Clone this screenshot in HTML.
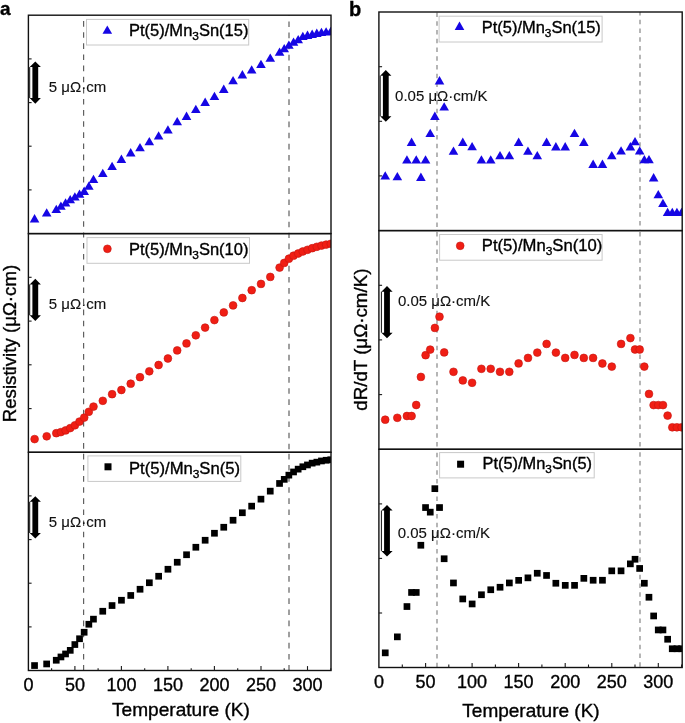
<!DOCTYPE html>
<html><head><meta charset="utf-8"><title>Figure</title>
<style>html,body{margin:0;padding:0;background:#fff;}body{width:685px;height:723px;overflow:hidden;}svg{display:block;}text{stroke:#000;stroke-width:0.35px;}</style>
</head><body>
<svg width="685" height="723" viewBox="0 0 685 723" font-family='"Liberation Sans", Arial, sans-serif' fill="#000"><defs><clipPath id="cL0"><rect x="28.4" y="15.2" width="302.6" height="218.4"/></clipPath><clipPath id="cL1"><rect x="28.4" y="233.6" width="302.6" height="218.7"/></clipPath><clipPath id="cL2"><rect x="28.4" y="452.3" width="302.6" height="218.2"/></clipPath><clipPath id="cR0"><rect x="378.9" y="12.0" width="303.3" height="218.6"/></clipPath><clipPath id="cR1"><rect x="378.9" y="230.6" width="303.3" height="218.7"/></clipPath><clipPath id="cR2"><rect x="378.9" y="449.3" width="303.3" height="218.2"/></clipPath></defs><line x1="83.6" y1="15.2" x2="83.6" y2="233.6" stroke="#606060" stroke-width="1.2" stroke-dasharray="5.6,5.52" stroke-dashoffset="5.22"/>
<line x1="289.0" y1="15.2" x2="289.0" y2="233.6" stroke="#606060" stroke-width="1.2" stroke-dasharray="5.6,5.52" stroke-dashoffset="4.82"/>
<line x1="437.0" y1="12.0" x2="437.0" y2="230.6" stroke="#858585" stroke-width="1.2" stroke-dasharray="4.4,4.35" stroke-dashoffset="8.15"/>
<line x1="640.0" y1="12.0" x2="640.0" y2="230.6" stroke="#858585" stroke-width="1.2" stroke-dasharray="4.4,4.35" stroke-dashoffset="0.90"/>
<line x1="83.6" y1="233.6" x2="83.6" y2="452.3" stroke="#606060" stroke-width="1.2" stroke-dasharray="5.6,5.52" stroke-dashoffset="1.82"/>
<line x1="289.0" y1="233.6" x2="289.0" y2="452.3" stroke="#606060" stroke-width="1.2" stroke-dasharray="5.6,5.52" stroke-dashoffset="1.12"/>
<line x1="437.0" y1="230.6" x2="437.0" y2="449.3" stroke="#858585" stroke-width="1.2" stroke-dasharray="4.4,4.35" stroke-dashoffset="7.35"/>
<line x1="640.0" y1="230.6" x2="640.0" y2="449.3" stroke="#858585" stroke-width="1.2" stroke-dasharray="4.4,4.35" stroke-dashoffset="7.31"/>
<line x1="83.6" y1="452.3" x2="83.6" y2="670.5" stroke="#606060" stroke-width="1.2" stroke-dasharray="5.6,5.52" stroke-dashoffset="9.62"/>
<line x1="289.0" y1="452.3" x2="289.0" y2="670.5" stroke="#606060" stroke-width="1.2" stroke-dasharray="5.6,5.52" stroke-dashoffset="9.62"/>
<line x1="437.0" y1="449.3" x2="437.0" y2="667.5" stroke="#858585" stroke-width="1.2" stroke-dasharray="4.4,4.35" stroke-dashoffset="5.25"/>
<line x1="640.0" y1="449.3" x2="640.0" y2="667.5" stroke="#858585" stroke-width="1.2" stroke-dasharray="4.4,4.35" stroke-dashoffset="5.79"/>
<rect x="86.5" y="19.4" width="162.2" height="25.6" fill="#fff" stroke="#c8c8c8" stroke-width="1"/>
<polygon points="107.30,25.40 112.10,33.70 102.50,33.70" fill="#1606e4"/>
<text x="129.0" y="35.9" font-size="16" textLength="119.5" lengthAdjust="spacingAndGlyphs">Pt(5)/Mn<tspan font-size="11.5" dy="4">3</tspan><tspan dy="-4">Sn(15)</tspan></text>
<rect x="87.0" y="237.6" width="162.5" height="25.7" fill="#fff" stroke="#c8c8c8" stroke-width="1"/>
<circle cx="107.4" cy="248.8" r="3.9" fill="#f01e14" stroke="#c41510" stroke-width="0.6"/>
<text x="129.0" y="255.2" font-size="16" textLength="119.5" lengthAdjust="spacingAndGlyphs">Pt(5)/Mn<tspan font-size="11.5" dy="4">3</tspan><tspan dy="-4">Sn(10)</tspan></text>
<rect x="87.9" y="455.9" width="152.9" height="25.5" fill="#fff" stroke="#c8c8c8" stroke-width="1"/>
<rect x="104.5" y="463.3" width="7.0" height="7.0" fill="#000000"/>
<text x="129.0" y="473.6" font-size="16" textLength="111.0" lengthAdjust="spacingAndGlyphs">Pt(5)/Mn<tspan font-size="11.5" dy="4">3</tspan><tspan dy="-4">Sn(5)</tspan></text>
<rect x="439.1" y="16.2" width="163.0" height="25.8" fill="#fff" stroke="#c8c8c8" stroke-width="1"/>
<polygon points="459.50,21.60 464.30,29.90 454.70,29.90" fill="#1606e4"/>
<text x="481.8" y="32.6" font-size="16" textLength="119.0" lengthAdjust="spacingAndGlyphs">Pt(5)/Mn<tspan font-size="11.5" dy="4">3</tspan><tspan dy="-4">Sn(15)</tspan></text>
<rect x="439.6" y="234.5" width="162.5" height="25.7" fill="#fff" stroke="#c8c8c8" stroke-width="1"/>
<circle cx="460.2" cy="245.8" r="3.9" fill="#f01e14" stroke="#c41510" stroke-width="0.6"/>
<text x="481.8" y="251.2" font-size="16" textLength="120.5" lengthAdjust="spacingAndGlyphs">Pt(5)/Mn<tspan font-size="11.5" dy="4">3</tspan><tspan dy="-4">Sn(10)</tspan></text>
<rect x="439.6" y="452.6" width="154.6" height="25.3" fill="#fff" stroke="#c8c8c8" stroke-width="1"/>
<rect x="457.1" y="460.7" width="7.0" height="7.0" fill="#000000"/>
<text x="482.5" y="469.4" font-size="16" textLength="109.5" lengthAdjust="spacingAndGlyphs">Pt(5)/Mn<tspan font-size="11.5" dy="4">3</tspan><tspan dy="-4">Sn(5)</tspan></text>
<g clip-path="url(#cL0)">
<polygon points="34.58,214.10 39.38,222.40 29.78,222.40" fill="#1606e4"/>
<polygon points="46.68,208.30 51.48,216.60 41.88,216.60" fill="#1606e4"/>
<polygon points="56.27,204.70 61.06,213.00 51.47,213.00" fill="#1606e4"/>
<polygon points="60.92,201.47 65.72,209.77 56.12,209.77" fill="#1606e4"/>
<polygon points="65.57,198.23 70.37,206.53 60.77,206.53" fill="#1606e4"/>
<polygon points="70.22,195.00 75.02,203.30 65.42,203.30" fill="#1606e4"/>
<polygon points="74.88,192.20 79.67,200.50 70.08,200.50" fill="#1606e4"/>
<polygon points="79.53,189.40 84.33,197.70 74.73,197.70" fill="#1606e4"/>
<polygon points="84.18,186.60 88.98,194.90 79.38,194.90" fill="#1606e4"/>
<polygon points="88.83,181.40 93.63,189.70 84.03,189.70" fill="#1606e4"/>
<polygon points="93.49,174.70 98.29,183.00 88.69,183.00" fill="#1606e4"/>
<polygon points="102.79,168.70 107.59,177.00 97.99,177.00" fill="#1606e4"/>
<polygon points="112.09,161.70 116.89,170.00 107.30,170.00" fill="#1606e4"/>
<polygon points="121.40,154.60 126.20,162.90 116.60,162.90" fill="#1606e4"/>
<polygon points="130.71,148.10 135.51,156.40 125.91,156.40" fill="#1606e4"/>
<polygon points="140.01,143.00 144.81,151.30 135.21,151.30" fill="#1606e4"/>
<polygon points="149.31,136.90 154.12,145.20 144.51,145.20" fill="#1606e4"/>
<polygon points="158.62,131.30 163.42,139.60 153.82,139.60" fill="#1606e4"/>
<polygon points="167.92,125.20 172.72,133.50 163.12,133.50" fill="#1606e4"/>
<polygon points="177.23,116.90 182.03,125.20 172.43,125.20" fill="#1606e4"/>
<polygon points="186.53,111.60 191.34,119.90 181.73,119.90" fill="#1606e4"/>
<polygon points="195.84,104.80 200.64,113.10 191.04,113.10" fill="#1606e4"/>
<polygon points="205.14,97.60 209.94,105.90 200.34,105.90" fill="#1606e4"/>
<polygon points="214.45,91.80 219.25,100.10 209.65,100.10" fill="#1606e4"/>
<polygon points="223.75,84.60 228.56,92.90 218.95,92.90" fill="#1606e4"/>
<polygon points="233.06,75.90 237.86,84.20 228.26,84.20" fill="#1606e4"/>
<polygon points="242.36,70.10 247.16,78.40 237.56,78.40" fill="#1606e4"/>
<polygon points="251.67,65.30 256.47,73.60 246.87,73.60" fill="#1606e4"/>
<polygon points="260.98,59.80 265.78,68.10 256.18,68.10" fill="#1606e4"/>
<polygon points="270.28,53.40 275.08,61.70 265.48,61.70" fill="#1606e4"/>
<polygon points="279.58,47.40 284.38,55.70 274.78,55.70" fill="#1606e4"/>
<polygon points="284.24,43.90 289.04,52.20 279.44,52.20" fill="#1606e4"/>
<polygon points="288.89,40.40 293.69,48.70 284.09,48.70" fill="#1606e4"/>
<polygon points="293.54,37.40 298.34,45.70 288.74,45.70" fill="#1606e4"/>
<polygon points="298.19,34.90 303.00,43.20 293.39,43.20" fill="#1606e4"/>
<polygon points="302.85,31.80 307.65,40.10 298.05,40.10" fill="#1606e4"/>
<polygon points="307.50,30.60 312.30,38.90 302.70,38.90" fill="#1606e4"/>
<polygon points="312.15,29.60 316.95,37.90 307.35,37.90" fill="#1606e4"/>
<polygon points="316.81,28.60 321.61,36.90 312.00,36.90" fill="#1606e4"/>
<polygon points="321.46,27.80 326.26,36.10 316.66,36.10" fill="#1606e4"/>
<polygon points="326.11,27.20 330.91,35.50 321.31,35.50" fill="#1606e4"/>
<polygon points="330.76,26.70 335.56,35.00 325.96,35.00" fill="#1606e4"/>
</g>
<g clip-path="url(#cL1)">
<circle cx="34.6" cy="439.1" r="3.9" fill="#f01e14" stroke="#c41510" stroke-width="0.6"/>
<circle cx="46.7" cy="436.3" r="3.9" fill="#f01e14" stroke="#c41510" stroke-width="0.6"/>
<circle cx="56.3" cy="433.2" r="3.9" fill="#f01e14" stroke="#c41510" stroke-width="0.6"/>
<circle cx="60.9" cy="432.1" r="3.9" fill="#f01e14" stroke="#c41510" stroke-width="0.6"/>
<circle cx="65.6" cy="430.4" r="3.9" fill="#f01e14" stroke="#c41510" stroke-width="0.6"/>
<circle cx="70.2" cy="428.1" r="3.9" fill="#f01e14" stroke="#c41510" stroke-width="0.6"/>
<circle cx="74.9" cy="425.3" r="3.9" fill="#f01e14" stroke="#c41510" stroke-width="0.6"/>
<circle cx="79.5" cy="421.6" r="3.9" fill="#f01e14" stroke="#c41510" stroke-width="0.6"/>
<circle cx="84.2" cy="417.6" r="3.9" fill="#f01e14" stroke="#c41510" stroke-width="0.6"/>
<circle cx="88.8" cy="411.8" r="3.9" fill="#f01e14" stroke="#c41510" stroke-width="0.6"/>
<circle cx="93.5" cy="406.6" r="3.9" fill="#f01e14" stroke="#c41510" stroke-width="0.6"/>
<circle cx="102.8" cy="400.8" r="3.9" fill="#f01e14" stroke="#c41510" stroke-width="0.6"/>
<circle cx="112.1" cy="394.2" r="3.9" fill="#f01e14" stroke="#c41510" stroke-width="0.6"/>
<circle cx="121.4" cy="390.0" r="3.9" fill="#f01e14" stroke="#c41510" stroke-width="0.6"/>
<circle cx="130.7" cy="383.7" r="3.9" fill="#f01e14" stroke="#c41510" stroke-width="0.6"/>
<circle cx="140.0" cy="377.2" r="3.9" fill="#f01e14" stroke="#c41510" stroke-width="0.6"/>
<circle cx="149.3" cy="371.3" r="3.9" fill="#f01e14" stroke="#c41510" stroke-width="0.6"/>
<circle cx="158.6" cy="365.0" r="3.9" fill="#f01e14" stroke="#c41510" stroke-width="0.6"/>
<circle cx="167.9" cy="358.5" r="3.9" fill="#f01e14" stroke="#c41510" stroke-width="0.6"/>
<circle cx="177.2" cy="350.4" r="3.9" fill="#f01e14" stroke="#c41510" stroke-width="0.6"/>
<circle cx="186.5" cy="343.4" r="3.9" fill="#f01e14" stroke="#c41510" stroke-width="0.6"/>
<circle cx="195.8" cy="335.3" r="3.9" fill="#f01e14" stroke="#c41510" stroke-width="0.6"/>
<circle cx="205.1" cy="327.6" r="3.9" fill="#f01e14" stroke="#c41510" stroke-width="0.6"/>
<circle cx="214.4" cy="320.1" r="3.9" fill="#f01e14" stroke="#c41510" stroke-width="0.6"/>
<circle cx="223.8" cy="312.4" r="3.9" fill="#f01e14" stroke="#c41510" stroke-width="0.6"/>
<circle cx="233.1" cy="305.4" r="3.9" fill="#f01e14" stroke="#c41510" stroke-width="0.6"/>
<circle cx="242.4" cy="298.0" r="3.9" fill="#f01e14" stroke="#c41510" stroke-width="0.6"/>
<circle cx="251.7" cy="290.2" r="3.9" fill="#f01e14" stroke="#c41510" stroke-width="0.6"/>
<circle cx="261.0" cy="283.9" r="3.9" fill="#f01e14" stroke="#c41510" stroke-width="0.6"/>
<circle cx="270.3" cy="276.9" r="3.9" fill="#f01e14" stroke="#c41510" stroke-width="0.6"/>
<circle cx="279.6" cy="267.6" r="3.9" fill="#f01e14" stroke="#c41510" stroke-width="0.6"/>
<circle cx="284.2" cy="262.9" r="3.9" fill="#f01e14" stroke="#c41510" stroke-width="0.6"/>
<circle cx="288.9" cy="258.7" r="3.9" fill="#f01e14" stroke="#c41510" stroke-width="0.6"/>
<circle cx="293.5" cy="255.7" r="3.9" fill="#f01e14" stroke="#c41510" stroke-width="0.6"/>
<circle cx="298.2" cy="253.5" r="3.9" fill="#f01e14" stroke="#c41510" stroke-width="0.6"/>
<circle cx="302.8" cy="251.5" r="3.9" fill="#f01e14" stroke="#c41510" stroke-width="0.6"/>
<circle cx="307.5" cy="249.8" r="3.9" fill="#f01e14" stroke="#c41510" stroke-width="0.6"/>
<circle cx="312.2" cy="248.2" r="3.9" fill="#f01e14" stroke="#c41510" stroke-width="0.6"/>
<circle cx="316.8" cy="246.8" r="3.9" fill="#f01e14" stroke="#c41510" stroke-width="0.6"/>
<circle cx="321.5" cy="245.6" r="3.9" fill="#f01e14" stroke="#c41510" stroke-width="0.6"/>
<circle cx="326.1" cy="244.6" r="3.9" fill="#f01e14" stroke="#c41510" stroke-width="0.6"/>
<circle cx="330.8" cy="243.8" r="3.9" fill="#f01e14" stroke="#c41510" stroke-width="0.6"/>
</g>
<g clip-path="url(#cL2)">
<rect x="31.2" y="662.2" width="6.7" height="6.7" fill="#000000"/>
<rect x="43.3" y="660.6" width="6.7" height="6.7" fill="#000000"/>
<rect x="52.9" y="656.9" width="6.7" height="6.7" fill="#000000"/>
<rect x="57.6" y="653.6" width="6.7" height="6.7" fill="#000000"/>
<rect x="62.2" y="650.6" width="6.7" height="6.7" fill="#000000"/>
<rect x="66.9" y="647.0" width="6.7" height="6.7" fill="#000000"/>
<rect x="71.5" y="641.2" width="6.7" height="6.7" fill="#000000"/>
<rect x="76.2" y="635.4" width="6.7" height="6.7" fill="#000000"/>
<rect x="80.8" y="628.9" width="6.7" height="6.7" fill="#000000"/>
<rect x="85.5" y="620.9" width="6.7" height="6.7" fill="#000000"/>
<rect x="90.1" y="615.8" width="6.7" height="6.7" fill="#000000"/>
<rect x="99.4" y="607.9" width="6.7" height="6.7" fill="#000000"/>
<rect x="108.7" y="602.2" width="6.7" height="6.7" fill="#000000"/>
<rect x="118.1" y="596.9" width="6.7" height="6.7" fill="#000000"/>
<rect x="127.4" y="592.1" width="6.7" height="6.7" fill="#000000"/>
<rect x="136.7" y="585.9" width="6.7" height="6.7" fill="#000000"/>
<rect x="146.0" y="579.4" width="6.7" height="6.7" fill="#000000"/>
<rect x="155.3" y="572.9" width="6.7" height="6.7" fill="#000000"/>
<rect x="164.6" y="565.9" width="6.7" height="6.7" fill="#000000"/>
<rect x="173.9" y="558.9" width="6.7" height="6.7" fill="#000000"/>
<rect x="183.2" y="551.4" width="6.7" height="6.7" fill="#000000"/>
<rect x="192.5" y="543.9" width="6.7" height="6.7" fill="#000000"/>
<rect x="201.8" y="536.9" width="6.7" height="6.7" fill="#000000"/>
<rect x="211.1" y="529.9" width="6.7" height="6.7" fill="#000000"/>
<rect x="220.4" y="523.9" width="6.7" height="6.7" fill="#000000"/>
<rect x="229.7" y="516.9" width="6.7" height="6.7" fill="#000000"/>
<rect x="239.0" y="509.4" width="6.7" height="6.7" fill="#000000"/>
<rect x="248.3" y="502.8" width="6.7" height="6.7" fill="#000000"/>
<rect x="257.6" y="495.8" width="6.7" height="6.7" fill="#000000"/>
<rect x="266.9" y="487.8" width="6.7" height="6.7" fill="#000000"/>
<rect x="276.2" y="480.1" width="6.7" height="6.7" fill="#000000"/>
<rect x="280.9" y="476.0" width="6.7" height="6.7" fill="#000000"/>
<rect x="285.5" y="471.8" width="6.7" height="6.7" fill="#000000"/>
<rect x="290.2" y="468.6" width="6.7" height="6.7" fill="#000000"/>
<rect x="294.8" y="465.8" width="6.7" height="6.7" fill="#000000"/>
<rect x="299.5" y="463.4" width="6.7" height="6.7" fill="#000000"/>
<rect x="304.1" y="461.6" width="6.7" height="6.7" fill="#000000"/>
<rect x="308.8" y="459.8" width="6.7" height="6.7" fill="#000000"/>
<rect x="313.5" y="458.8" width="6.7" height="6.7" fill="#000000"/>
<rect x="318.1" y="457.6" width="6.7" height="6.7" fill="#000000"/>
<rect x="322.8" y="456.9" width="6.7" height="6.7" fill="#000000"/>
<rect x="327.4" y="456.4" width="6.7" height="6.7" fill="#000000"/>
</g>
<g clip-path="url(#cR0)">
<polygon points="385.24,171.30 390.04,179.60 380.44,179.60" fill="#1606e4"/>
<polygon points="397.34,172.00 402.14,180.30 392.54,180.30" fill="#1606e4"/>
<polygon points="406.93,155.30 411.73,163.60 402.13,163.60" fill="#1606e4"/>
<polygon points="411.58,137.60 416.38,145.90 406.78,145.90" fill="#1606e4"/>
<polygon points="416.24,155.30 421.04,163.60 411.44,163.60" fill="#1606e4"/>
<polygon points="420.89,172.60 425.69,180.90 416.09,180.90" fill="#1606e4"/>
<polygon points="425.55,155.30 430.35,163.60 420.75,163.60" fill="#1606e4"/>
<polygon points="430.20,128.70 435.00,137.00 425.40,137.00" fill="#1606e4"/>
<polygon points="434.86,111.60 439.66,119.90 430.06,119.90" fill="#1606e4"/>
<polygon points="439.51,76.10 444.31,84.40 434.71,84.40" fill="#1606e4"/>
<polygon points="444.17,102.30 448.97,110.60 439.37,110.60" fill="#1606e4"/>
<polygon points="453.48,146.40 458.28,154.70 448.68,154.70" fill="#1606e4"/>
<polygon points="462.79,137.60 467.59,145.90 457.99,145.90" fill="#1606e4"/>
<polygon points="472.10,141.90 476.90,150.20 467.30,150.20" fill="#1606e4"/>
<polygon points="481.41,155.30 486.21,163.60 476.61,163.60" fill="#1606e4"/>
<polygon points="490.72,155.30 495.52,163.60 485.92,163.60" fill="#1606e4"/>
<polygon points="500.03,150.90 504.83,159.20 495.23,159.20" fill="#1606e4"/>
<polygon points="509.34,150.90 514.14,159.20 504.54,159.20" fill="#1606e4"/>
<polygon points="518.65,137.60 523.45,145.90 513.85,145.90" fill="#1606e4"/>
<polygon points="527.96,146.40 532.76,154.70 523.16,154.70" fill="#1606e4"/>
<polygon points="537.27,150.90 542.07,159.20 532.47,159.20" fill="#1606e4"/>
<polygon points="546.58,137.60 551.38,145.90 541.78,145.90" fill="#1606e4"/>
<polygon points="555.89,142.10 560.69,150.40 551.09,150.40" fill="#1606e4"/>
<polygon points="565.20,142.10 570.00,150.40 560.40,150.40" fill="#1606e4"/>
<polygon points="574.51,128.80 579.31,137.10 569.71,137.10" fill="#1606e4"/>
<polygon points="583.82,137.60 588.62,145.90 579.02,145.90" fill="#1606e4"/>
<polygon points="593.13,159.60 597.93,167.90 588.33,167.90" fill="#1606e4"/>
<polygon points="602.44,159.60 607.24,167.90 597.64,167.90" fill="#1606e4"/>
<polygon points="611.75,150.90 616.55,159.20 606.95,159.20" fill="#1606e4"/>
<polygon points="621.06,146.30 625.86,154.60 616.26,154.60" fill="#1606e4"/>
<polygon points="630.37,142.10 635.17,150.40 625.57,150.40" fill="#1606e4"/>
<polygon points="635.03,136.90 639.83,145.20 630.23,145.20" fill="#1606e4"/>
<polygon points="639.68,146.30 644.48,154.60 634.88,154.60" fill="#1606e4"/>
<polygon points="644.34,154.90 649.13,163.20 639.54,163.20" fill="#1606e4"/>
<polygon points="648.99,154.90 653.79,163.20 644.19,163.20" fill="#1606e4"/>
<polygon points="653.64,173.10 658.44,181.40 648.85,181.40" fill="#1606e4"/>
<polygon points="658.30,190.00 663.10,198.30 653.50,198.30" fill="#1606e4"/>
<polygon points="662.96,198.80 667.75,207.10 658.16,207.10" fill="#1606e4"/>
<polygon points="667.61,207.70 672.41,216.00 662.81,216.00" fill="#1606e4"/>
<polygon points="672.27,207.70 677.07,216.00 667.47,216.00" fill="#1606e4"/>
<polygon points="676.92,207.70 681.72,216.00 672.12,216.00" fill="#1606e4"/>
<polygon points="681.58,207.70 686.38,216.00 676.78,216.00" fill="#1606e4"/>
</g>
<g clip-path="url(#cR1)">
<circle cx="385.2" cy="419.7" r="3.9" fill="#f01e14" stroke="#c41510" stroke-width="0.6"/>
<circle cx="397.3" cy="417.8" r="3.9" fill="#f01e14" stroke="#c41510" stroke-width="0.6"/>
<circle cx="406.9" cy="416.0" r="3.9" fill="#f01e14" stroke="#c41510" stroke-width="0.6"/>
<circle cx="411.6" cy="416.0" r="3.9" fill="#f01e14" stroke="#c41510" stroke-width="0.6"/>
<circle cx="416.2" cy="405.0" r="3.9" fill="#f01e14" stroke="#c41510" stroke-width="0.6"/>
<circle cx="420.9" cy="376.9" r="3.9" fill="#f01e14" stroke="#c41510" stroke-width="0.6"/>
<circle cx="425.6" cy="355.2" r="3.9" fill="#f01e14" stroke="#c41510" stroke-width="0.6"/>
<circle cx="430.2" cy="349.6" r="3.9" fill="#f01e14" stroke="#c41510" stroke-width="0.6"/>
<circle cx="434.9" cy="327.9" r="3.9" fill="#f01e14" stroke="#c41510" stroke-width="0.6"/>
<circle cx="439.5" cy="316.7" r="3.9" fill="#f01e14" stroke="#c41510" stroke-width="0.6"/>
<circle cx="444.2" cy="352.4" r="3.9" fill="#f01e14" stroke="#c41510" stroke-width="0.6"/>
<circle cx="453.5" cy="371.8" r="3.9" fill="#f01e14" stroke="#c41510" stroke-width="0.6"/>
<circle cx="462.8" cy="380.4" r="3.9" fill="#f01e14" stroke="#c41510" stroke-width="0.6"/>
<circle cx="472.1" cy="382.8" r="3.9" fill="#f01e14" stroke="#c41510" stroke-width="0.6"/>
<circle cx="481.4" cy="368.8" r="3.9" fill="#f01e14" stroke="#c41510" stroke-width="0.6"/>
<circle cx="490.7" cy="368.8" r="3.9" fill="#f01e14" stroke="#c41510" stroke-width="0.6"/>
<circle cx="500.0" cy="371.8" r="3.9" fill="#f01e14" stroke="#c41510" stroke-width="0.6"/>
<circle cx="509.3" cy="371.8" r="3.9" fill="#f01e14" stroke="#c41510" stroke-width="0.6"/>
<circle cx="518.6" cy="363.4" r="3.9" fill="#f01e14" stroke="#c41510" stroke-width="0.6"/>
<circle cx="528.0" cy="357.9" r="3.9" fill="#f01e14" stroke="#c41510" stroke-width="0.6"/>
<circle cx="537.3" cy="352.6" r="3.9" fill="#f01e14" stroke="#c41510" stroke-width="0.6"/>
<circle cx="546.6" cy="343.9" r="3.9" fill="#f01e14" stroke="#c41510" stroke-width="0.6"/>
<circle cx="555.9" cy="352.6" r="3.9" fill="#f01e14" stroke="#c41510" stroke-width="0.6"/>
<circle cx="565.2" cy="357.9" r="3.9" fill="#f01e14" stroke="#c41510" stroke-width="0.6"/>
<circle cx="574.5" cy="354.9" r="3.9" fill="#f01e14" stroke="#c41510" stroke-width="0.6"/>
<circle cx="583.8" cy="357.9" r="3.9" fill="#f01e14" stroke="#c41510" stroke-width="0.6"/>
<circle cx="593.1" cy="357.9" r="3.9" fill="#f01e14" stroke="#c41510" stroke-width="0.6"/>
<circle cx="602.4" cy="363.5" r="3.9" fill="#f01e14" stroke="#c41510" stroke-width="0.6"/>
<circle cx="611.8" cy="366.6" r="3.9" fill="#f01e14" stroke="#c41510" stroke-width="0.6"/>
<circle cx="621.1" cy="343.9" r="3.9" fill="#f01e14" stroke="#c41510" stroke-width="0.6"/>
<circle cx="630.4" cy="338.1" r="3.9" fill="#f01e14" stroke="#c41510" stroke-width="0.6"/>
<circle cx="635.0" cy="349.5" r="3.9" fill="#f01e14" stroke="#c41510" stroke-width="0.6"/>
<circle cx="639.7" cy="349.5" r="3.9" fill="#f01e14" stroke="#c41510" stroke-width="0.6"/>
<circle cx="644.3" cy="366.6" r="3.9" fill="#f01e14" stroke="#c41510" stroke-width="0.6"/>
<circle cx="649.0" cy="393.9" r="3.9" fill="#f01e14" stroke="#c41510" stroke-width="0.6"/>
<circle cx="653.6" cy="405.1" r="3.9" fill="#f01e14" stroke="#c41510" stroke-width="0.6"/>
<circle cx="658.3" cy="405.1" r="3.9" fill="#f01e14" stroke="#c41510" stroke-width="0.6"/>
<circle cx="663.0" cy="405.1" r="3.9" fill="#f01e14" stroke="#c41510" stroke-width="0.6"/>
<circle cx="667.6" cy="415.6" r="3.9" fill="#f01e14" stroke="#c41510" stroke-width="0.6"/>
<circle cx="672.3" cy="427.3" r="3.9" fill="#f01e14" stroke="#c41510" stroke-width="0.6"/>
<circle cx="676.9" cy="427.3" r="3.9" fill="#f01e14" stroke="#c41510" stroke-width="0.6"/>
<circle cx="681.6" cy="427.3" r="3.9" fill="#f01e14" stroke="#c41510" stroke-width="0.6"/>
</g>
<g clip-path="url(#cR2)">
<rect x="381.9" y="649.5" width="6.7" height="6.7" fill="#000000"/>
<rect x="394.0" y="633.5" width="6.7" height="6.7" fill="#000000"/>
<rect x="403.6" y="603.2" width="6.7" height="6.7" fill="#000000"/>
<rect x="408.2" y="589.1" width="6.7" height="6.7" fill="#000000"/>
<rect x="412.9" y="589.1" width="6.7" height="6.7" fill="#000000"/>
<rect x="417.5" y="541.9" width="6.7" height="6.7" fill="#000000"/>
<rect x="422.2" y="504.2" width="6.7" height="6.7" fill="#000000"/>
<rect x="426.9" y="508.8" width="6.7" height="6.7" fill="#000000"/>
<rect x="431.5" y="485.3" width="6.7" height="6.7" fill="#000000"/>
<rect x="436.2" y="504.2" width="6.7" height="6.7" fill="#000000"/>
<rect x="440.8" y="555.4" width="6.7" height="6.7" fill="#000000"/>
<rect x="450.1" y="579.6" width="6.7" height="6.7" fill="#000000"/>
<rect x="459.4" y="595.6" width="6.7" height="6.7" fill="#000000"/>
<rect x="468.8" y="600.6" width="6.7" height="6.7" fill="#000000"/>
<rect x="478.1" y="591.4" width="6.7" height="6.7" fill="#000000"/>
<rect x="487.4" y="586.4" width="6.7" height="6.7" fill="#000000"/>
<rect x="496.7" y="583.9" width="6.7" height="6.7" fill="#000000"/>
<rect x="506.0" y="579.6" width="6.7" height="6.7" fill="#000000"/>
<rect x="515.3" y="577.0" width="6.7" height="6.7" fill="#000000"/>
<rect x="524.6" y="574.5" width="6.7" height="6.7" fill="#000000"/>
<rect x="533.9" y="569.9" width="6.7" height="6.7" fill="#000000"/>
<rect x="543.2" y="572.1" width="6.7" height="6.7" fill="#000000"/>
<rect x="552.5" y="579.9" width="6.7" height="6.7" fill="#000000"/>
<rect x="561.9" y="582.0" width="6.7" height="6.7" fill="#000000"/>
<rect x="571.2" y="582.0" width="6.7" height="6.7" fill="#000000"/>
<rect x="580.5" y="575.0" width="6.7" height="6.7" fill="#000000"/>
<rect x="589.8" y="576.9" width="6.7" height="6.7" fill="#000000"/>
<rect x="599.1" y="576.9" width="6.7" height="6.7" fill="#000000"/>
<rect x="608.4" y="567.5" width="6.7" height="6.7" fill="#000000"/>
<rect x="617.7" y="567.5" width="6.7" height="6.7" fill="#000000"/>
<rect x="627.0" y="560.5" width="6.7" height="6.7" fill="#000000"/>
<rect x="631.7" y="555.9" width="6.7" height="6.7" fill="#000000"/>
<rect x="636.3" y="565.1" width="6.7" height="6.7" fill="#000000"/>
<rect x="641.0" y="579.9" width="6.7" height="6.7" fill="#000000"/>
<rect x="645.6" y="593.9" width="6.7" height="6.7" fill="#000000"/>
<rect x="650.3" y="612.6" width="6.7" height="6.7" fill="#000000"/>
<rect x="654.9" y="626.6" width="6.7" height="6.7" fill="#000000"/>
<rect x="659.6" y="626.6" width="6.7" height="6.7" fill="#000000"/>
<rect x="664.3" y="635.9" width="6.7" height="6.7" fill="#000000"/>
<rect x="668.9" y="645.4" width="6.7" height="6.7" fill="#000000"/>
<rect x="673.6" y="645.4" width="6.7" height="6.7" fill="#000000"/>
<rect x="678.2" y="645.4" width="6.7" height="6.7" fill="#000000"/>
</g>
<rect x="28.4" y="15.2" width="302.6" height="218.4" fill="none" stroke="#111" stroke-width="1.4"/>
<rect x="378.9" y="12.0" width="303.3" height="218.6" fill="none" stroke="#111" stroke-width="1.4"/>
<rect x="28.4" y="233.6" width="302.6" height="218.7" fill="none" stroke="#111" stroke-width="1.4"/>
<rect x="378.9" y="230.6" width="303.3" height="218.7" fill="none" stroke="#111" stroke-width="1.4"/>
<rect x="28.4" y="452.3" width="302.6" height="218.2" fill="none" stroke="#111" stroke-width="1.4"/>
<rect x="378.9" y="449.3" width="303.3" height="218.2" fill="none" stroke="#111" stroke-width="1.4"/>
<line x1="28.4" y1="58.9" x2="31.599999999999998" y2="58.9" stroke="#1a1a1a" stroke-width="1.1"/>
<line x1="28.4" y1="102.6" x2="31.599999999999998" y2="102.6" stroke="#1a1a1a" stroke-width="1.1"/>
<line x1="28.4" y1="146.2" x2="31.599999999999998" y2="146.2" stroke="#1a1a1a" stroke-width="1.1"/>
<line x1="28.4" y1="189.9" x2="31.599999999999998" y2="189.9" stroke="#1a1a1a" stroke-width="1.1"/>
<line x1="378.9" y1="66.7" x2="382.09999999999997" y2="66.7" stroke="#1a1a1a" stroke-width="1.1"/>
<line x1="378.9" y1="121.3" x2="382.09999999999997" y2="121.3" stroke="#1a1a1a" stroke-width="1.1"/>
<line x1="378.9" y1="175.9" x2="382.09999999999997" y2="175.9" stroke="#1a1a1a" stroke-width="1.1"/>
<line x1="28.4" y1="277.3" x2="31.599999999999998" y2="277.3" stroke="#1a1a1a" stroke-width="1.1"/>
<line x1="28.4" y1="321.1" x2="31.599999999999998" y2="321.1" stroke="#1a1a1a" stroke-width="1.1"/>
<line x1="28.4" y1="364.8" x2="31.599999999999998" y2="364.8" stroke="#1a1a1a" stroke-width="1.1"/>
<line x1="28.4" y1="408.6" x2="31.599999999999998" y2="408.6" stroke="#1a1a1a" stroke-width="1.1"/>
<line x1="378.9" y1="285.3" x2="382.09999999999997" y2="285.3" stroke="#1a1a1a" stroke-width="1.1"/>
<line x1="378.9" y1="339.9" x2="382.09999999999997" y2="339.9" stroke="#1a1a1a" stroke-width="1.1"/>
<line x1="378.9" y1="394.6" x2="382.09999999999997" y2="394.6" stroke="#1a1a1a" stroke-width="1.1"/>
<line x1="28.4" y1="495.9" x2="31.599999999999998" y2="495.9" stroke="#1a1a1a" stroke-width="1.1"/>
<line x1="28.4" y1="539.6" x2="31.599999999999998" y2="539.6" stroke="#1a1a1a" stroke-width="1.1"/>
<line x1="28.4" y1="583.2" x2="31.599999999999998" y2="583.2" stroke="#1a1a1a" stroke-width="1.1"/>
<line x1="28.4" y1="626.9" x2="31.599999999999998" y2="626.9" stroke="#1a1a1a" stroke-width="1.1"/>
<line x1="378.9" y1="503.9" x2="382.09999999999997" y2="503.9" stroke="#1a1a1a" stroke-width="1.1"/>
<line x1="378.9" y1="558.4" x2="382.09999999999997" y2="558.4" stroke="#1a1a1a" stroke-width="1.1"/>
<line x1="378.9" y1="613.0" x2="382.09999999999997" y2="613.0" stroke="#1a1a1a" stroke-width="1.1"/>
<line x1="51.6" y1="670.5" x2="51.6" y2="668.3" stroke="#1a1a1a" stroke-width="1.1"/>
<line x1="74.9" y1="670.5" x2="74.9" y2="666.1" stroke="#1a1a1a" stroke-width="1.1"/>
<line x1="98.1" y1="670.5" x2="98.1" y2="668.3" stroke="#1a1a1a" stroke-width="1.1"/>
<line x1="121.4" y1="670.5" x2="121.4" y2="666.1" stroke="#1a1a1a" stroke-width="1.1"/>
<line x1="144.7" y1="670.5" x2="144.7" y2="668.3" stroke="#1a1a1a" stroke-width="1.1"/>
<line x1="167.9" y1="670.5" x2="167.9" y2="666.1" stroke="#1a1a1a" stroke-width="1.1"/>
<line x1="191.2" y1="670.5" x2="191.2" y2="668.3" stroke="#1a1a1a" stroke-width="1.1"/>
<line x1="214.4" y1="670.5" x2="214.4" y2="666.1" stroke="#1a1a1a" stroke-width="1.1"/>
<line x1="237.7" y1="670.5" x2="237.7" y2="668.3" stroke="#1a1a1a" stroke-width="1.1"/>
<line x1="261.0" y1="670.5" x2="261.0" y2="666.1" stroke="#1a1a1a" stroke-width="1.1"/>
<line x1="284.2" y1="670.5" x2="284.2" y2="668.3" stroke="#1a1a1a" stroke-width="1.1"/>
<line x1="307.5" y1="670.5" x2="307.5" y2="666.1" stroke="#1a1a1a" stroke-width="1.1"/>
<line x1="330.8" y1="670.5" x2="330.8" y2="668.3" stroke="#1a1a1a" stroke-width="1.1"/>
<text x="28.4" y="690.5" font-size="18" text-anchor="middle">0</text>
<text x="74.9" y="690.5" font-size="18" text-anchor="middle">50</text>
<text x="121.4" y="690.5" font-size="18" text-anchor="middle">100</text>
<text x="167.9" y="690.5" font-size="18" text-anchor="middle">150</text>
<text x="214.4" y="690.5" font-size="18" text-anchor="middle">200</text>
<text x="261.0" y="690.5" font-size="18" text-anchor="middle">250</text>
<text x="307.5" y="690.5" font-size="18" text-anchor="middle">300</text>
<line x1="402.3" y1="667.5" x2="402.3" y2="664.5" stroke="#1a1a1a" stroke-width="1.1"/>
<line x1="425.6" y1="667.5" x2="425.6" y2="663.1" stroke="#1a1a1a" stroke-width="1.1"/>
<line x1="448.8" y1="667.5" x2="448.8" y2="664.5" stroke="#1a1a1a" stroke-width="1.1"/>
<line x1="472.1" y1="667.5" x2="472.1" y2="663.1" stroke="#1a1a1a" stroke-width="1.1"/>
<line x1="495.4" y1="667.5" x2="495.4" y2="664.5" stroke="#1a1a1a" stroke-width="1.1"/>
<line x1="518.6" y1="667.5" x2="518.6" y2="663.1" stroke="#1a1a1a" stroke-width="1.1"/>
<line x1="541.9" y1="667.5" x2="541.9" y2="664.5" stroke="#1a1a1a" stroke-width="1.1"/>
<line x1="565.2" y1="667.5" x2="565.2" y2="663.1" stroke="#1a1a1a" stroke-width="1.1"/>
<line x1="588.5" y1="667.5" x2="588.5" y2="664.5" stroke="#1a1a1a" stroke-width="1.1"/>
<line x1="611.8" y1="667.5" x2="611.8" y2="663.1" stroke="#1a1a1a" stroke-width="1.1"/>
<line x1="635.0" y1="667.5" x2="635.0" y2="664.5" stroke="#1a1a1a" stroke-width="1.1"/>
<line x1="658.3" y1="667.5" x2="658.3" y2="663.1" stroke="#1a1a1a" stroke-width="1.1"/>
<line x1="681.6" y1="667.5" x2="681.6" y2="664.5" stroke="#1a1a1a" stroke-width="1.1"/>
<text x="379.0" y="687.6" font-size="18" text-anchor="middle">0</text>
<text x="425.6" y="687.6" font-size="18" text-anchor="middle">50</text>
<text x="472.1" y="687.6" font-size="18" text-anchor="middle">100</text>
<text x="518.6" y="687.6" font-size="18" text-anchor="middle">150</text>
<text x="565.2" y="687.6" font-size="18" text-anchor="middle">200</text>
<text x="611.8" y="687.6" font-size="18" text-anchor="middle">250</text>
<text x="658.3" y="687.6" font-size="18" text-anchor="middle">300</text>
<text x="112.0" y="716.0" font-size="18.2" textLength="137.9" lengthAdjust="spacingAndGlyphs">Temperature (K)</text>
<text x="462.3" y="716.9" font-size="18.2" textLength="137.4" lengthAdjust="spacingAndGlyphs">Temperature (K)</text>
<text transform="translate(15.8,422.3) rotate(-90)" font-size="18.2" textLength="157.5" lengthAdjust="spacingAndGlyphs">Resistivity (μΩ·cm)</text>
<text transform="translate(366.6,410.8) rotate(-90)" font-size="18.2" textLength="142.2" lengthAdjust="spacingAndGlyphs">dR/dT (μΩ·cm/K)</text>
<text x="0.1" y="15.2" font-size="19" font-weight="bold">a</text>
<text x="349.0" y="15.7" font-size="20" font-weight="bold">b</text>
<path d="M35.3,61.5 L40.9,67.1 L38.2,67.1 L38.2,98.1 L40.9,98.1 L35.3,103.7 L29.7,98.1 L32.4,98.1 L32.4,67.1 L29.7,67.1 Z" fill="#000"/>
<line x1="29.7" y1="67.1" x2="29.7" y2="98.1" stroke="#111" stroke-width="1"/>
<path d="M35.3,278.8 L40.9,284.4 L38.2,284.4 L38.2,315.3 L40.9,315.3 L35.3,320.9 L29.7,315.3 L32.4,315.3 L32.4,284.4 L29.7,284.4 Z" fill="#000"/>
<line x1="29.7" y1="284.4" x2="29.7" y2="315.3" stroke="#111" stroke-width="1"/>
<path d="M35.3,496.2 L40.9,501.8 L38.2,501.8 L38.2,533.0 L40.9,533.0 L35.3,538.6 L29.7,533.0 L32.4,533.0 L32.4,501.8 L29.7,501.8 Z" fill="#000"/>
<line x1="29.7" y1="501.8" x2="29.7" y2="533.0" stroke="#111" stroke-width="1"/>
<path d="M385.8,70.1 L391.4,75.7 L388.7,75.7 L388.7,116.2 L391.4,116.2 L385.8,121.8 L380.2,116.2 L382.9,116.2 L382.9,75.7 L380.2,75.7 Z" fill="#000"/>
<line x1="380.2" y1="75.7" x2="380.2" y2="116.2" stroke="#111" stroke-width="1"/>
<path d="M387.0,286.1 L392.6,291.7 L389.9,291.7 L389.9,332.7 L392.6,332.7 L387.0,338.3 L381.4,332.7 L384.1,332.7 L384.1,291.7 L381.4,291.7 Z" fill="#000"/>
<line x1="381.4" y1="291.7" x2="381.4" y2="332.7" stroke="#111" stroke-width="1"/>
<path d="M387.0,505.0 L392.6,510.6 L389.9,510.6 L389.9,550.9 L392.6,550.9 L387.0,556.5 L381.4,550.9 L384.1,550.9 L384.1,510.6 L381.4,510.6 Z" fill="#000"/>
<line x1="381.4" y1="510.6" x2="381.4" y2="550.9" stroke="#111" stroke-width="1"/>
<text x="48.8" y="91.6" font-size="15" fill="#111" style="stroke-width:0.12px">5 μΩ·cm</text>
<text x="48.8" y="309.1" font-size="15" fill="#111" style="stroke-width:0.12px">5 μΩ·cm</text>
<text x="48.8" y="526.6" font-size="15" fill="#111" style="stroke-width:0.12px">5 μΩ·cm</text>
<text x="395.1" y="100.8" font-size="15" fill="#111" style="stroke-width:0.12px">0.05 μΩ·cm/K</text>
<text x="397.9" y="305.7" font-size="15" fill="#111" style="stroke-width:0.12px">0.05 μΩ·cm/K</text>
<text x="397.7" y="538.3" font-size="15" fill="#111" style="stroke-width:0.12px">0.05 μΩ·cm/K</text></svg>
</body></html>
